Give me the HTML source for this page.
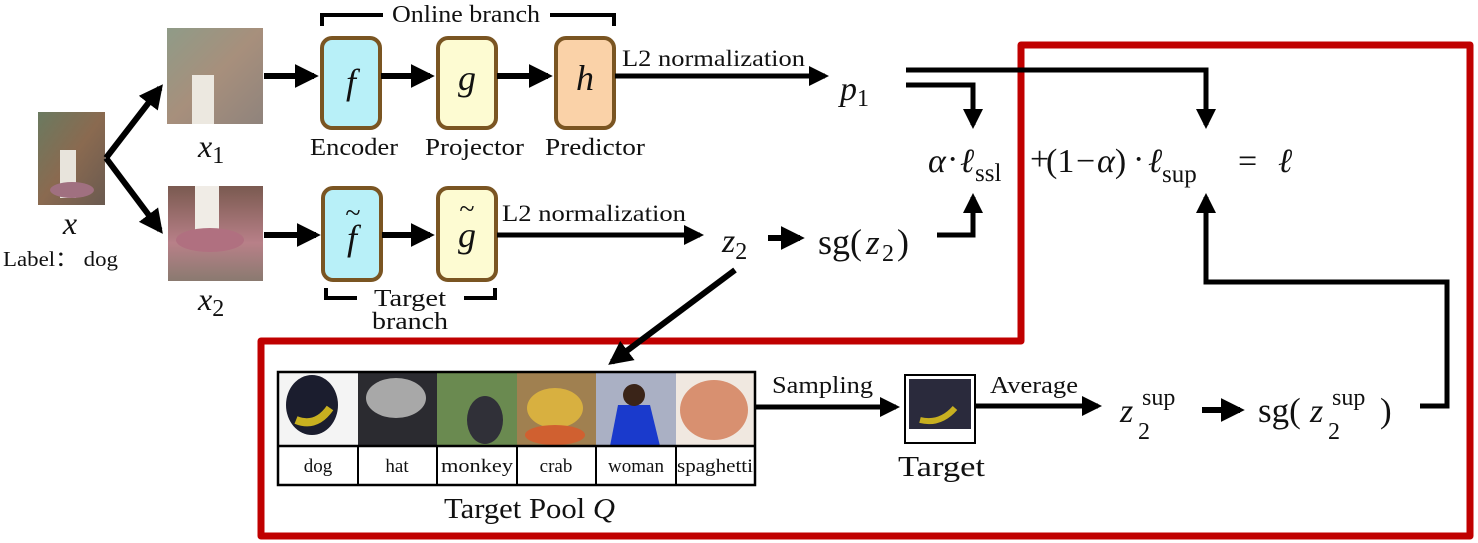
<!DOCTYPE html>
<html><head><meta charset="utf-8"><style>
html,body{margin:0;padding:0;background:#fff;}
svg{display:block;}
text{font-family:"Liberation Serif","DejaVu Serif",serif;fill:#111;}
.m{font-style:italic;}
</style></head><body>
<svg width="1478" height="543" viewBox="0 0 1478 543" xmlns="http://www.w3.org/2000/svg">
<defs>
<marker id="a" markerWidth="4" markerHeight="4" refX="3.2" refY="2" orient="auto" markerUnits="strokeWidth"><path d="M0,0 L4,2 L0,4 z" fill="#000"/></marker>
<linearGradient id="room" x1="0" y1="0" x2="1" y2="1"><stop offset="0" stop-color="#6a7a60"/><stop offset="0.5" stop-color="#8a6a50"/><stop offset="1" stop-color="#6a5a50"/></linearGradient>
<linearGradient id="room2" x1="0" y1="0" x2="0" y2="1"><stop offset="0" stop-color="#7a5a50"/><stop offset="0.6" stop-color="#b88088"/><stop offset="1" stop-color="#8a7a70"/></linearGradient>
</defs>
<path d="M1021,45 L1470,45 L1470,536 L261,536 L261,341 L1021,341 Z" fill="none" stroke="#c00000" stroke-width="7" stroke-linejoin="round"/>

<rect x="38" y="112" width="67" height="93" fill="url(#room)"/>
<rect x="60" y="150" width="16" height="48" fill="#e8e4dc"/><ellipse cx="72" cy="190" rx="22" ry="8" fill="#a07080"/>
<rect x="167" y="28" width="96" height="96" fill="url(#room)" opacity="0.75"/>
<rect x="192" y="75" width="22" height="49" fill="#ece8e0"/>
<rect x="168" y="186" width="95" height="95" fill="url(#room2)"/>
<rect x="195" y="186" width="24" height="60" fill="#f0ece6"/><ellipse cx="210" cy="240" rx="34" ry="12" fill="#b07080"/>
<text x="70" y="234" class="m" font-size="32" text-anchor="middle">x</text>
<text x="3" y="266" font-size="21" textLength="115" lengthAdjust="spacingAndGlyphs">Label： dog</text>
<text x="198" y="157" font-size="32"><tspan class="m">x</tspan><tspan font-size="24" dy="6">1</tspan></text>
<text x="198" y="310" font-size="32"><tspan class="m">x</tspan><tspan font-size="24" dy="6">2</tspan></text>

<path d="M106,158 L160,88" stroke="#000" stroke-width="6" fill="none" marker-end="url(#a)"/>
<path d="M106,158 L160,230" stroke="#000" stroke-width="6" fill="none" marker-end="url(#a)"/>

<path d="M322,26 V15 H383 M550,15 H614 V26" stroke="#000" stroke-width="4" fill="none"/>
<text x="392" y="22" font-size="24" textLength="148" lengthAdjust="spacingAndGlyphs">Online branch</text>
<rect x="322" y="38" width="58" height="90" rx="10" fill="#b8f0f8" stroke="#7a5522" stroke-width="4"/>
<rect x="438" y="38" width="58" height="90" rx="10" fill="#fdfbd2" stroke="#7a5522" stroke-width="4"/>
<rect x="556" y="38" width="58" height="90" rx="10" fill="#fad2a8" stroke="#7a5522" stroke-width="4"/>
<text x="351" y="94" class="m" font-size="36" text-anchor="middle">f</text>
<text x="467" y="90" class="m" font-size="36" text-anchor="middle">g</text>
<text x="585" y="90" class="m" font-size="36" text-anchor="middle">h</text>
<text x="310" y="155" font-size="24" textLength="88" lengthAdjust="spacingAndGlyphs">Encoder</text>
<text x="425" y="155" font-size="24" textLength="99" lengthAdjust="spacingAndGlyphs">Projector</text>
<text x="545" y="155" font-size="24" textLength="100" lengthAdjust="spacingAndGlyphs">Predictor</text>
<path d="M264,76 L314,76" stroke="#000" stroke-width="6" marker-end="url(#a)"/>
<path d="M381,76 L430,76" stroke="#000" stroke-width="6" marker-end="url(#a)"/>
<path d="M497,76 L548,76" stroke="#000" stroke-width="6" marker-end="url(#a)"/>
<path d="M615,76 L825,76" stroke="#000" stroke-width="5" marker-end="url(#a)"/>
<text x="622" y="66" font-size="23" textLength="183" lengthAdjust="spacingAndGlyphs">L2 normalization</text>
<text x="840" y="100" font-size="34"><tspan class="m">p</tspan><tspan font-size="24" dy="6">1</tspan></text>

<rect x="323" y="188" width="58" height="92" rx="10" fill="#b8f0f8" stroke="#7a5522" stroke-width="4"/>
<rect x="438" y="188" width="58" height="92" rx="10" fill="#fdfbd2" stroke="#7a5522" stroke-width="4"/>
<text x="352" y="250" class="m" font-size="36" text-anchor="middle">f</text>
<text x="353" y="222" font-size="28" text-anchor="middle">~</text>
<text x="467" y="247" class="m" font-size="36" text-anchor="middle">g</text>
<text x="467" y="218" font-size="28" text-anchor="middle">~</text>
<path d="M326,288 V298 H357 M464,298 H495 V288" stroke="#000" stroke-width="4" fill="none"/>
<text x="374" y="306" font-size="24" textLength="72" lengthAdjust="spacingAndGlyphs">Target</text>
<text x="372" y="329" font-size="24" textLength="76" lengthAdjust="spacingAndGlyphs">branch</text>
<path d="M264,235 L316,235" stroke="#000" stroke-width="6" marker-end="url(#a)"/>
<path d="M382,235 L430,235" stroke="#000" stroke-width="6" marker-end="url(#a)"/>
<path d="M497,235 L700,235" stroke="#000" stroke-width="5" marker-end="url(#a)"/>
<text x="502" y="221" font-size="23" textLength="184" lengthAdjust="spacingAndGlyphs">L2 normalization</text>
<text x="722" y="252" font-size="34"><tspan class="m">z</tspan><tspan font-size="24" dy="7">2</tspan></text>
<path d="M768,238 L800,238" stroke="#000" stroke-width="6" marker-end="url(#a)"/>
<text x="818" y="254" font-size="36">sg(</text><text x="866" y="254" class="m" font-size="35">z</text><text x="882" y="261" font-size="24">2</text><text x="897" y="254" font-size="36">)</text>

<path d="M906,70 H1206 V125" stroke="#000" stroke-width="5" fill="none" marker-end="url(#a)"/>
<path d="M906,85 H973 V125" stroke="#000" stroke-width="5" fill="none" marker-end="url(#a)"/>
<path d="M937,235 H973 V197" stroke="#000" stroke-width="5" fill="none" marker-end="url(#a)"/>
<path d="M1420,406 H1447 V282 H1206 V197" stroke="#000" stroke-width="5" fill="none" marker-end="url(#a)"/>

<g font-size="34">
<text x="928" y="172" class="m">α</text>
<text x="947" y="170">·</text>
<text x="960" y="172" class="m">ℓ</text>
<text x="975" y="181" font-size="25">ssl</text>
<text x="1030" y="170">+</text>
<text x="1046" y="172">(1</text>
<text x="1076" y="172">−</text>
<text x="1097" y="172"><tspan class="m">α</tspan>)</text>
<text x="1133" y="170">·</text>
<text x="1148" y="172" class="m">ℓ</text>
<text x="1162" y="182" font-size="25">sup</text>
<text x="1238" y="172">=</text>
<text x="1278" y="172" class="m">ℓ</text>
</g>

<path d="M735,270 L612,362" stroke="#000" stroke-width="6" marker-end="url(#a)"/>

<g>
<rect x="278" y="372" width="80" height="74" fill="#f4f4f4"/><ellipse cx="312" cy="405" rx="26" ry="30" fill="#1b1d2e"/><path d="M296,420 q20,8 34,-12" stroke="#c8b020" stroke-width="8" fill="none"/>
<rect x="358" y="372" width="79" height="74" fill="#2b2b30"/><ellipse cx="396" cy="398" rx="30" ry="20" fill="#a8a8a8"/>
<rect x="437" y="372" width="80" height="74" fill="#6a8a50"/><ellipse cx="485" cy="420" rx="18" ry="24" fill="#303038"/>
<rect x="517" y="372" width="79" height="74" fill="#a08050"/><ellipse cx="555" cy="408" rx="28" ry="20" fill="#d8b040"/><ellipse cx="555" cy="435" rx="30" ry="10" fill="#d06030"/>
<rect x="596" y="372" width="80" height="74" fill="#aab0c4"/><path d="M610,446 L618,405 L650,405 L660,446 Z" fill="#1a3acc"/><circle cx="634" cy="395" r="11" fill="#3a2418"/>
<rect x="676" y="372" width="79" height="74" fill="#f0e8e0"/><ellipse cx="714" cy="410" rx="34" ry="30" fill="#d89070"/>
<rect x="278" y="372" width="477" height="113" fill="none" stroke="#000" stroke-width="2.5"/>
<line x1="278" y1="446" x2="755" y2="446" stroke="#000" stroke-width="2.5"/>
<g stroke="#000" stroke-width="2"><line x1="358" y1="446" x2="358" y2="485"/><line x1="437" y1="446" x2="437" y2="485"/><line x1="517" y1="446" x2="517" y2="485"/><line x1="596" y1="446" x2="596" y2="485"/><line x1="676" y1="446" x2="676" y2="485"/></g>
<g font-size="19" text-anchor="middle"><text x="318" y="472">dog</text><text x="397" y="472">hat</text><text x="477" y="472" textLength="72" lengthAdjust="spacingAndGlyphs">monkey</text><text x="556" y="472">crab</text><text x="636" y="472">woman</text><text x="715" y="472" textLength="76" lengthAdjust="spacingAndGlyphs">spaghetti</text></g>
</g>
<text x="444" y="518" font-size="28" textLength="171" lengthAdjust="spacingAndGlyphs">Target Pool <tspan class="m">Q</tspan></text>

<text x="772" y="393" font-size="24" textLength="101" lengthAdjust="spacingAndGlyphs">Sampling</text>
<path d="M755,407 L896,407" stroke="#000" stroke-width="5" marker-end="url(#a)"/>
<rect x="905" y="375" width="70" height="68" fill="#fff" stroke="#000" stroke-width="2"/>
<rect x="909" y="379" width="62" height="50" fill="#2a2a3c"/><path d="M920,420 q20,5 35,-12" stroke="#c8b020" stroke-width="6" fill="none"/>
<text x="898" y="476" font-size="28" textLength="87" lengthAdjust="spacingAndGlyphs">Target</text>
<text x="990" y="393" font-size="24" textLength="88" lengthAdjust="spacingAndGlyphs">Average</text>
<path d="M976,406 L1098,406" stroke="#000" stroke-width="5" marker-end="url(#a)"/>
<text x="1120" y="422" class="m" font-size="34">z</text><text x="1138" y="439" font-size="24">2</text><text x="1142" y="405" font-size="24">sup</text>
<path d="M1202,410 L1240,410" stroke="#000" stroke-width="6" marker-end="url(#a)"/>
<text x="1258" y="422" font-size="35">sg(</text><text x="1310" y="422" class="m" font-size="34">z</text><text x="1328" y="439" font-size="24">2</text><text x="1332" y="405" font-size="24">sup</text><text x="1380" y="422" font-size="35">)</text>
</svg>
</body></html>
